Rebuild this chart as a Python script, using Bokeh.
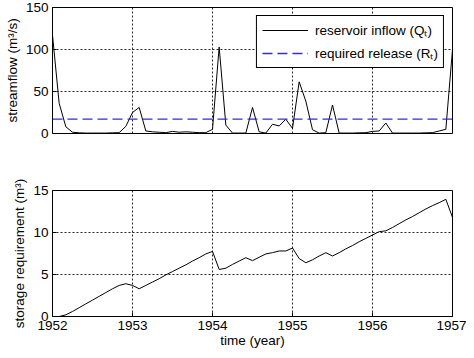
from bokeh.plotting import figure
from bokeh.models import Range1d, FixedTicker, Label
from bokeh.layouts import column
from bokeh.embed import file_html
from bokeh.resources import INLINE

# ---- data (monthly, Jan 1952 .. Jan 1957) ----
month_index = list(range(61))
inflow = [117, 36, 8, 1.5, 0.8, 0.5, 0.5, 0.5, 0.5, 0.8, 1, 8.5,
          25, 31, 3, 2, 1.5, 1, 2.5, 1.5, 2, 1.5, 1, 1,
          5, 103, 10, 0.5, 0.5, 0.5, 31, 2, 0.5, 11, 9, 17,
          6, 61.5, 38.5, 4.5, 0.5, 1, 34, 0.5, 0.5, 0.5, 0.8, 1,
          2.5, 3, 12.5, 0.5, 0.5, 0.5, 0.5, 0.5, 0.8, 1, 3, 5,
          100]
release = 17.0
storage = [0, 0, 0.2, 0.6, 1.05, 1.5, 1.95, 2.4, 2.85, 3.3, 3.7, 3.9,
           3.7, 3.3, 3.7, 4.1, 4.5, 4.95, 5.35, 5.75, 6.15, 6.6, 7.0, 7.45,
           7.75, 5.6, 5.75, 6.2, 6.6, 7.0, 6.65, 7.05, 7.45, 7.6, 7.8, 7.8,
           8.15, 6.9, 6.4, 6.75, 7.2, 7.6, 7.2, 7.6, 8.05, 8.45, 8.9, 9.3,
           9.7, 10.1, 10.2, 10.6, 11.05, 11.5, 11.9, 12.35, 12.8, 13.2, 13.55, 13.95,
           11.8]
year_ticks = [1952, 1953, 1954, 1955, 1956, 1957]
inflow_ticks = [0, 50, 100, 150]
storage_ticks = [0, 5, 10, 15]

years = [year_ticks[0] + m / 12 for m in month_index]

FONT = "Liberation Sans"


def style(p, yticks):
    p.outline_line_color = "black"
    p.outline_line_alpha = 1
    p.outline_line_width = 1
    p.xaxis.ticker = FixedTicker(ticks=year_ticks)
    p.yaxis.ticker = FixedTicker(ticks=yticks)
    for ax in p.axis:
        ax.axis_line_color = "black"
        ax.major_tick_in = 4
        ax.major_tick_out = 0
        ax.minor_tick_in = 0
        ax.minor_tick_out = 0
        ax.major_tick_line_color = "black"
        ax.major_label_text_font = FONT
        ax.major_label_text_font_size = "13.5px"
        ax.major_label_text_color = "black"
        ax.axis_label_text_font = FONT
        ax.axis_label_text_font_size = "13.5px"
        ax.axis_label_text_font_style = "normal"
        ax.axis_label_text_color = "black"
    p.yaxis.major_label_standoff = 4
    p.yaxis.axis_label_standoff = 3
    p.grid.grid_line_color = "black"
    p.grid.grid_line_dash = "2 2"
    p.grid.grid_line_alpha = 0.85
    p.grid.grid_line_width = 1


p1 = figure(width=466, height=158, x_range=Range1d(1952, 1957), y_range=Range1d(0, 150),
            output_backend="svg", toolbar_location=None,
            min_border_left=52, min_border_right=14, min_border_top=7, min_border_bottom=25)
style(p1, inflow_ticks)
p1.xaxis.visible = False
p1.yaxis.axis_label = "streamflow (m³/s)"

p1.line(years, inflow, line_color="black", line_width=1, legend_label="reservoir inflow (Qₜ)")
p1.line([years[0], years[-1]], [release, release], line_color="#2f2fd6", line_width=1.3,
        line_dash="10 5", legend_label="required release (Rₜ)")

lg = p1.legend[0]
lg.location = "top_right"
lg.margin = 8
lg.padding = 5
lg.spacing = 5
lg.glyph_width = 46
lg.glyph_height = 18
lg.label_height = 18
lg.label_standoff = 7
lg.label_text_font = FONT
lg.label_text_font_size = "13.5px"
lg.label_text_color = "black"
lg.border_line_color = "black"
lg.border_line_width = 1
lg.border_line_alpha = 1
lg.background_fill_color = "white"
lg.background_fill_alpha = 1

p2 = figure(width=466, height=192, x_range=Range1d(1952, 1957), y_range=Range1d(0, 15),
            output_backend="svg", toolbar_location=None,
            min_border_left=52, min_border_right=14, min_border_top=32, min_border_bottom=34)
style(p2, storage_ticks)
p2.yaxis.axis_label = "storage requirement (m³)"
p2.xaxis.axis_label = "time (year)"
p2.xaxis.major_label_standoff = 4
p2.xaxis.axis_label_standoff = 0

p2.line(years, storage, line_color="black", line_width=1)
p2.add_layout(Label(x=year_ticks[0], y=storage_ticks[-1], x_offset=-5, y_offset=2,
                    text="x 10⁸", text_font=FONT, text_font_size="12.5px",
                    text_baseline="bottom", text_align="left", text_color="black"))

layout = column(p1, p2, spacing=0)
open("out.html", "w").write(file_html(layout, INLINE))
